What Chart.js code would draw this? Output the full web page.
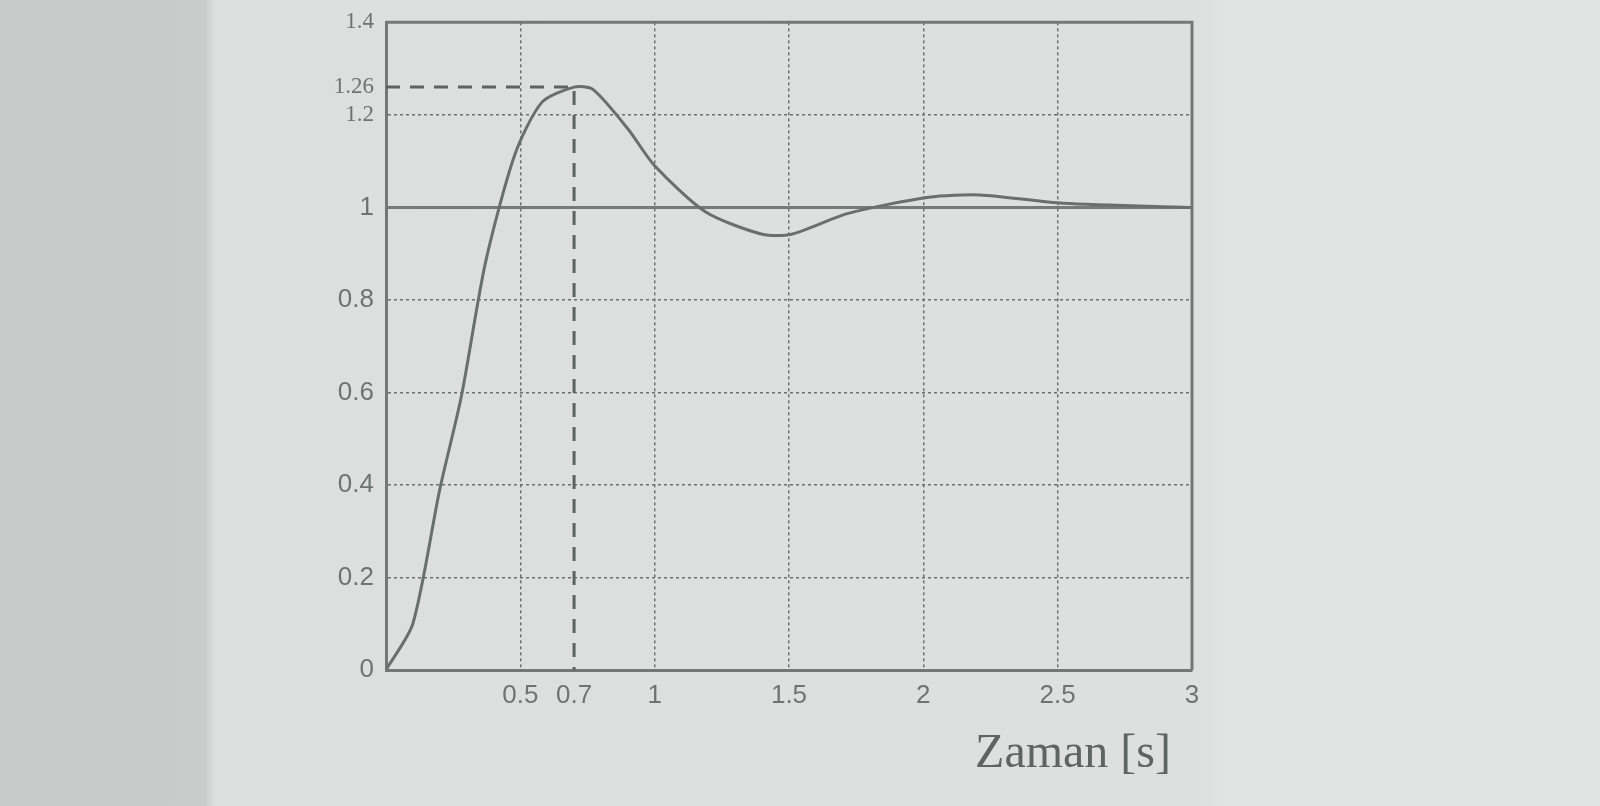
<!DOCTYPE html>
<html>
<head>
<meta charset="utf-8">
<script src="https://cdn.jsdelivr.net/npm/chart.js@4.4.0/dist/chart.umd.min.js"></script>
<style>
  html, body { margin: 0; padding: 0; }
  body {
    width: 1600px; height: 806px; overflow: hidden;
    background: linear-gradient(to right, #c7cac9 0px, #c9cccb 205px, #dcdfde 215px, #dde0df 1200px, #e1e4e3 1230px, #e1e4e3 100%);
  }
  #wrap { position: absolute; left: 0; top: 0; width: 1600px; height: 806px; }
</style>
</head>
<body>
<div id="wrap"><canvas id="myChart" width="1600" height="806"></canvas></div>
<script>
// step response
const time = [0, 0.1, 0.2, 0.28, 0.37, 0.48, 0.58, 0.7, 0.77, 0.9, 1.0, 1.19, 1.4, 1.51, 1.72, 2.02, 2.21, 2.52, 3.0];
const response = [0, 0.10, 0.39, 0.59, 0.88, 1.115, 1.227, 1.26, 1.255, 1.17, 1.09, 0.99, 0.942, 0.942, 0.987, 1.022, 1.027, 1.009, 1.0];

const xTicks = [0.5, 0.7, 1, 1.5, 2, 2.5, 3];
const yTicks = [0, 0.2, 0.4, 0.6, 0.8, 1, 1.2, 1.26, 1.4];
const peakTime = 0.7;
const peakValue = 1.26;
const finalValue = 1;
const xTitle = 'Zaman [s]';

const lineColor = '#6a6f6d';
const gridColor = '#6c706e';
const labelColor = '#6f7371';

const ctx = document.getElementById('myChart').getContext('2d');

const curve = time.map((t, i) => ({x: t, y: response[i]}));
const peakGuide = [
  {x: 0, y: peakValue},
  {x: peakTime, y: peakValue},
  {x: peakTime, y: 0},
];
const finalLine = [
  {x: 0, y: finalValue},
  {x: 3, y: finalValue},
];

const frame = {
  id: 'frame',
  afterDraw(chart) {
    const {ctx, chartArea: a} = chart;
    ctx.save();
    ctx.strokeStyle = '#737775';
    ctx.lineWidth = 3;
    ctx.beginPath();
    ctx.moveTo(a.left, a.top);
    ctx.lineTo(a.right, a.top);
    ctx.lineTo(a.right, a.bottom);
    ctx.stroke();
    ctx.fillStyle = '#5f6361';
    ctx.font = '48px "Liberation Serif"';
    ctx.textAlign = 'right';
    ctx.textBaseline = 'alphabetic';
    ctx.fillText(xTitle, a.right - 21, 767);
    ctx.restore();
  }
};

const serif = {family: '"Liberation Serif"', size: 23, lineHeight: 0.9};
const sansY = {family: '"Liberation Sans"', size: 26, lineHeight: 0.9};
const sans = {family: '"Liberation Sans"', size: 26};

new Chart(ctx, {
  type: 'line',
  data: {
    datasets: [
      {
        data: curve,
        borderColor: lineColor,
        borderWidth: 3,
        tension: 0.25,
        pointRadius: 0,
        order: 1,
      },
      {
        data: finalLine,
        borderColor: '#767a78',
        borderWidth: 3,
        tension: 0,
        pointRadius: 0,
        order: 2,
      },
      {
        data: peakGuide,
        borderColor: '#5d6260',
        borderWidth: 3,
        borderDash: [14, 10],
        tension: 0,
        pointRadius: 0,
        order: 3,
      },
    ]
  },
  options: {
    responsive: false,
    animation: false,
    layout: {padding: {left: 0, top: 20, right: 408, bottom: 0}},
    plugins: {legend: {display: false}, tooltip: {enabled: false}},
    scales: {
      x: {
        type: 'linear',
        min: 0,
        max: 3,
        afterBuildTicks: (s) => { s.ticks = xTicks.map(v => ({value: v})); },
        afterFit: (s) => { s.height = 136; },
        ticks: {
          color: labelColor,
          font: sans,
          padding: 10,
          maxRotation: 0,
          callback: (v) => String(v),
        },
        grid: {
          drawTicks: false,
          color: (c) => (c.tick && (c.tick.value === 0.7 || c.tick.value === 3)) ? 'rgba(0,0,0,0)' : gridColor,
          lineWidth: 1.5,
        },
        border: {color: '#737775', width: 3, dash: [3, 3]},
      },
      y: {
        type: 'linear',
        min: 0,
        max: 1.4,
        afterBuildTicks: (s) => { s.ticks = yTicks.map(v => ({value: v})); },
        afterFit: (s) => { s.width = 386; },
        ticks: {
          color: labelColor,
          font: (c) => (c.tick && c.tick.value > 1.1) ? serif : sansY,
          padding: 12,
          callback: (v) => String(v),
        },
        grid: {
          drawTicks: false,
          color: (c) => (c.tick && [0, 1, 1.26, 1.4].includes(c.tick.value)) ? 'rgba(0,0,0,0)' : gridColor,
          lineWidth: 1.5,
        },
        border: {color: '#737775', width: 3, dash: [3, 3]},
      }
    }
  },
  plugins: [frame]
});
</script>
</body>
</html>
